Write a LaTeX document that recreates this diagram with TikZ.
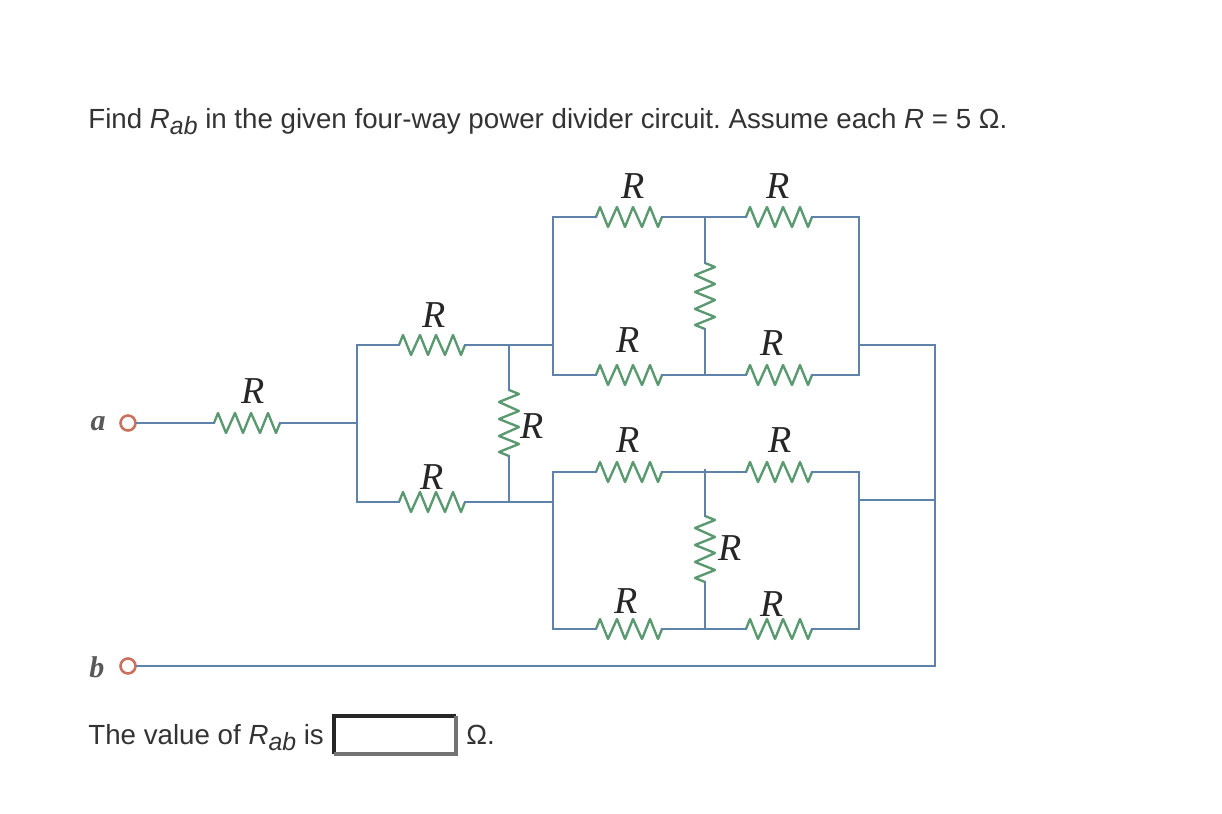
\documentclass[tikz,border=0pt]{standalone}
\usepackage{fontspec}
\setmainfont{Liberation Sans}
\newfontfamily\labelfont{Liberation Serif}
\definecolor{wirecol}{HTML}{5F82A8}
\definecolor{rescol}{HTML}{5B9A70}
\definecolor{termcol}{HTML}{C9705F}
\definecolor{textcol}{HTML}{333333}
\frenchspacing
\newcommand{\Rab}{\textit{R}\raisebox{-3.2pt}{\fontsize{12.4pt}{14pt}\selectfont\textit{ab}}}
\tikzset{
  wire/.style={draw=wirecol,line width=1.2pt,line cap=rect},
  rlabel/.style={inner sep=0pt,font=\labelfont\fontsize{19pt}{21pt}\selectfont\itshape,text=black!85},
  tlabel/.style={inner sep=0pt,font=\labelfont\fontsize{15pt}{17pt}\selectfont\itshape\bfseries,text=black!65},
  terminal/.style={circle,draw=termcol,line width=1.3pt,fill=white,minimum size=7.5pt,inner sep=0pt},
  para/.style={inner sep=0pt,anchor=base west,text=textcol,font=\fontsize{13.85pt}{16pt}\selectfont},
  res/.pic={
    \draw[rescol,line width=1.2pt,line join=round]
      (-33,0) -- (-29,-10) -- (-21,10) -- (-12,-10) -- (-4,10) -- (4,-10) -- (13,10) -- (21,-10) -- (29,10) -- (33,0);
    \coordinate (-in) at (-33,0);
    \coordinate (-out) at (33,0);
  }
}
\begin{document}
\begin{tikzpicture}[x=0.5pt,y=-0.5pt]
\useasboundingbox (0,0) rectangle (1222,814);
\node[para] (title) at (88,128) {Find \Rab{} in the given four-way power divider circuit. Assume each \textit{R} = 5 Ω.};
\node[para] (value) at (88,744) {The value of \Rab{} is};
\node[para] (unit) at (466,744) {Ω.};
\node[fill=white,minimum width=60.5pt,minimum height=18.5pt,inner sep=0pt] (answer) at (395,735) {};
\draw[black!85,line width=2pt] (answer.south west) -- (answer.north west) -- (answer.north east);
\draw[black!55,line width=2pt] (answer.north east) -- (answer.south east) -- (answer.south west);

\node[terminal] (a) at (128,423) {};
\node[terminal] (b) at (128,666) {};
\node[tlabel] (alabel) at (98,424) {a};
\node[tlabel] (blabel) at (97,667) {b};

\coordinate (j1) at (357,423);
\coordinate (j1t) at (357,345);
\coordinate (j1b) at (357,502);
\coordinate (j2t) at (509,345);
\coordinate (j2b) at (509,502);
\coordinate (up) at (553,345);
\coordinate (upt) at (553,217);
\coordinate (upb) at (553,375);
\coordinate (umt) at (705,217);
\coordinate (umb) at (705,375);
\coordinate (urt) at (859,217);
\coordinate (urb) at (859,375);
\coordinate (ur) at (859,345);
\coordinate (lo) at (553,502);
\coordinate (lot) at (553,472);
\coordinate (lob) at (553,629);
\coordinate (lmt) at (705,470);
\coordinate (lmb) at (705,629);
\coordinate (lrt) at (859,472);
\coordinate (lrb) at (859,629);
\coordinate (lr) at (859,500);
\coordinate (bust) at (935,345);
\coordinate (busm) at (935,500);
\coordinate (busb) at (935,666);

\pic (r1) at (247,423) {res};
\pic (r2) at (432,345) {res};
\pic (r3) at (432,502) {res};
\pic[rotate=-90] (r4) at (509,423) {res};
\pic (r5) at (629,217) {res};
\pic (r6) at (779,217) {res};
\pic[rotate=-90] (r7) at (705,296) {res};
\pic (r8) at (629,375) {res};
\pic (r9) at (779,375) {res};
\pic (r10) at (629,472) {res};
\pic (r11) at (779,472) {res};
\pic[rotate=-90] (r12) at (705,549) {res};
\pic (r13) at (629,629) {res};
\pic (r14) at (779,629) {res};

\draw[wire] (a) -- (r1-in);
\draw[wire] (r1-out) -- (j1);
\draw[wire] (j1t) -- (j1b);
\draw[wire] (j1t) -- (r2-in);
\draw[wire] (r2-out) -- (up);
\draw[wire] (j1b) -- (r3-in);
\draw[wire] (r3-out) -- (lo);
\draw[wire] (j2t) -- (r4-in);
\draw[wire] (r4-out) -- (j2b);
\draw[wire] (upt) -- (upb);
\draw[wire] (upt) -- (r5-in);
\draw[wire] (r5-out) -- (r6-in);
\draw[wire] (r6-out) -- (urt) -- (urb) -- (r9-out);
\draw[wire] (upb) -- (r8-in);
\draw[wire] (r8-out) -- (r9-in);
\draw[wire] (umt) -- (r7-in);
\draw[wire] (r7-out) -- (umb);
\draw[wire] (lot) -- (lob);
\draw[wire] (lot) -- (r10-in);
\draw[wire] (r10-out) -- (r11-in);
\draw[wire] (r11-out) -- (lrt) -- (lrb) -- (r14-out);
\draw[wire] (lob) -- (r13-in);
\draw[wire] (r13-out) -- (r14-in);
\draw[wire] (lmt) -- (r12-in);
\draw[wire] (r12-out) -- (lmb);
\draw[wire] (ur) -- (bust) -- (busb) -- (b);
\draw[wire] (lr) -- (busm);

\node[rlabel] (l1) at (253,391) {R};
\node[rlabel] (l2) at (434,315) {R};
\node[rlabel] (l3) at (432,477) {R};
\node[rlabel] (l4) at (532,426) {R};
\node[rlabel] (l5) at (633,186) {R};
\node[rlabel] (l6) at (778,186) {R};
\node[rlabel] (l8) at (628,340) {R};
\node[rlabel] (l9) at (772,343) {R};
\node[rlabel] (l10) at (628,440) {R};
\node[rlabel] (l11) at (780,440) {R};
\node[rlabel] (l12) at (730,548) {R};
\node[rlabel] (l13) at (626,601) {R};
\node[rlabel] (l14) at (772,604) {R};
\end{tikzpicture}
\end{document}
